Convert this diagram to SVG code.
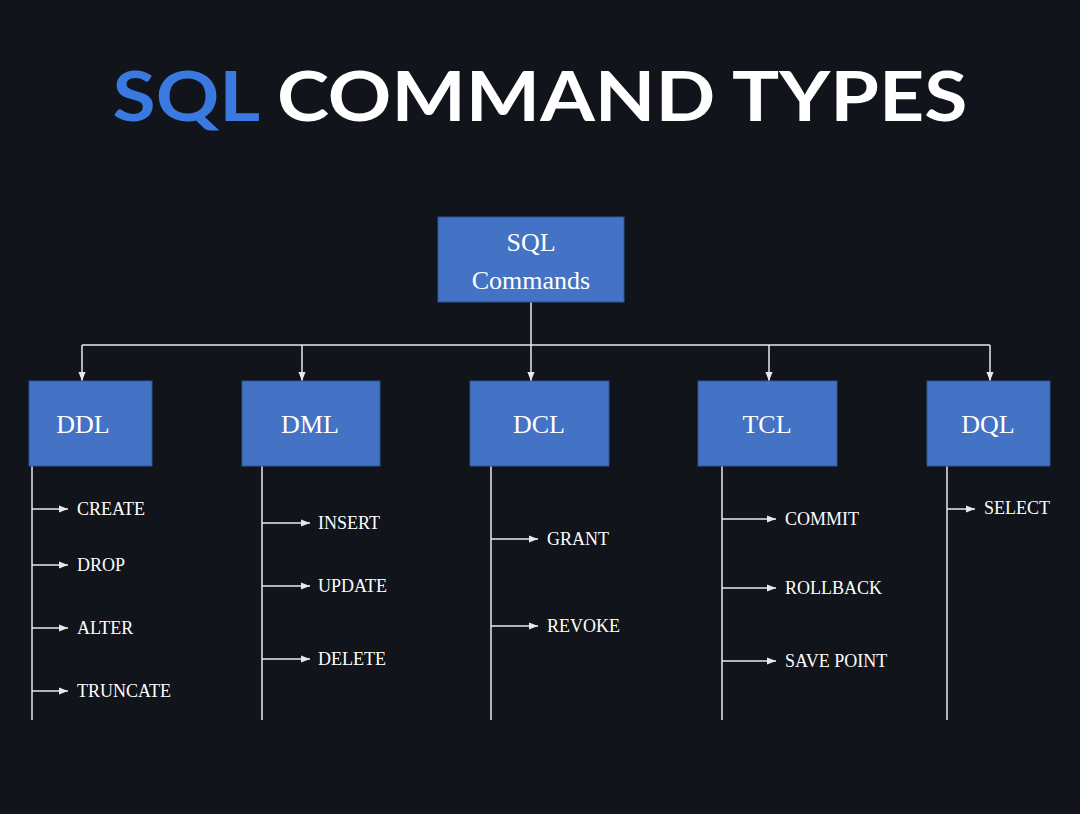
<svg xmlns="http://www.w3.org/2000/svg" width="1080" height="814" viewBox="0 0 1080 814">
<style>
.box{fill:#4472c4;stroke:#2f5597;stroke-width:1}
.bt{font-family:"Liberation Serif",serif;font-size:26px;fill:#fff;text-anchor:middle}
.it{font-family:"Liberation Serif",serif;font-size:18px;fill:#fff}
.ln{stroke:#e8e8e8;stroke-width:1.5;fill:none}
.title{font-family:"Lato","Liberation Sans",sans-serif;font-weight:bold;font-size:68px}
</style>
<defs><marker id="a" viewBox="0 0 10 10" refX="10" refY="5" markerWidth="6" markerHeight="6" orient="auto"><path d="M0,1L10,5L0,9z" fill="#e8e8e8"/></marker></defs>
<rect width="1080" height="814" fill="#11141b"/>
<text class="title" x="540" y="121" text-anchor="middle" textLength="855" lengthAdjust="spacingAndGlyphs"><tspan fill="#3a7ae0">SQL</tspan><tspan fill="#fff"> COMMAND TYPES</tspan></text>
<g id="connectors">
<path class="ln" d="M531,302V345M82,345H990"/>
<path class="ln" marker-end="url(#a)" d="M82,345V381"/>
<path class="ln" marker-end="url(#a)" d="M302,345V381"/>
<path class="ln" marker-end="url(#a)" d="M531,345V381"/>
<path class="ln" marker-end="url(#a)" d="M769,345V381"/>
<path class="ln" marker-end="url(#a)" d="M990,345V381"/>
<path class="ln" d="M32,466V720M262,466V720M491,466V720M722,466V720M947,466V720"/>
<g marker-end="url(#a)">
<path class="ln" d="M32,509H68"/><path class="ln" d="M32,565H68"/><path class="ln" d="M32,628H68"/><path class="ln" d="M32,691H68"/>
<path class="ln" d="M262,523H310"/><path class="ln" d="M262,586H310"/><path class="ln" d="M262,659H310"/>
<path class="ln" d="M491,539H538"/><path class="ln" d="M491,626H538"/>
<path class="ln" d="M722,519H776"/><path class="ln" d="M722,588H776"/><path class="ln" d="M722,661H776"/>
<path class="ln" d="M947,509H975"/>
</g>
</g>
<g id="root"><rect class="box" x="438" y="217" width="186" height="85"/><text class="bt" x="531" y="251">SQL</text><text class="bt" x="531" y="289">Commands</text></g>
<g id="ddl"><rect class="box" x="29" y="381" width="123" height="85"/><text class="bt" x="83" y="433">DDL</text></g>
<g id="dml"><rect class="box" x="242" y="381" width="138" height="85"/><text class="bt" x="310" y="433">DML</text></g>
<g id="dcl"><rect class="box" x="470" y="381" width="139" height="85"/><text class="bt" x="539" y="433">DCL</text></g>
<g id="tcl"><rect class="box" x="698" y="381" width="139" height="85"/><text class="bt" x="767" y="433">TCL</text></g>
<g id="dql"><rect class="box" x="927" y="381" width="123" height="85"/><text class="bt" x="988" y="433">DQL</text></g>
<g id="items">
<text class="it" x="77" y="515">CREATE</text><text class="it" x="77" y="571">DROP</text><text class="it" x="77" y="634">ALTER</text><text class="it" x="77" y="697">TRUNCATE</text>
<text class="it" x="318" y="529">INSERT</text><text class="it" x="318" y="592">UPDATE</text><text class="it" x="318" y="665">DELETE</text>
<text class="it" x="547" y="545">GRANT</text><text class="it" x="547" y="632">REVOKE</text>
<text class="it" x="785" y="525">COMMIT</text><text class="it" x="785" y="594">ROLLBACK</text><text class="it" x="785" y="667">SAVE POINT</text>
<text class="it" x="984" y="514">SELECT</text>
</g>
</svg>
